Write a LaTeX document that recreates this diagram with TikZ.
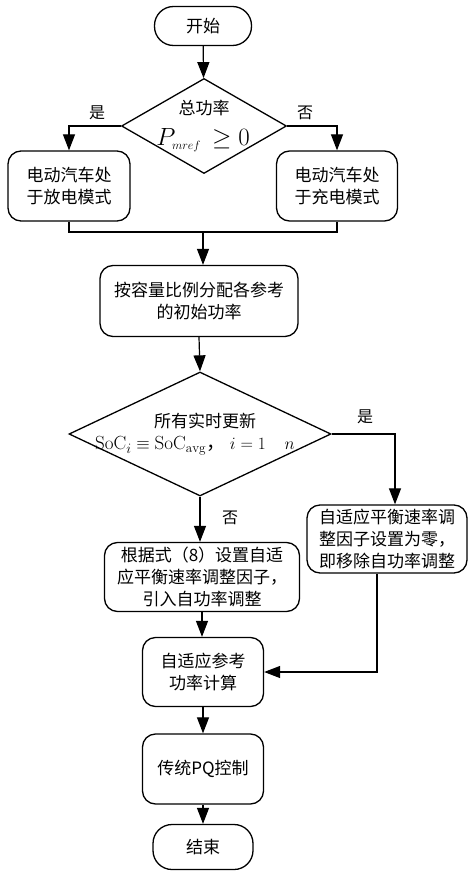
\documentclass[tikz,border=0pt]{standalone}
\usepackage{fontspec}
\newfontfamily\cjk{Noto Sans CJK SC}
\usepackage{tikz}
\usetikzlibrary{shapes.geometric}
\usetikzlibrary{arrows.meta}
\usetikzlibrary{calc}
\usepackage{amsmath}

\begin{document}
\begin{tikzpicture}[x=1pt, y=-1pt,
        box/.style={draw, line width=1.3pt, rounded corners=13pt, align=center, inner sep=0pt,
                    font=\cjk\fontsize{17}{22}\selectfont},
        term/.style={box, rounded corners=19pt},
        decision/.style={draw, diamond, line width=1.3pt, inner sep=0pt},
        flow/.style={line width=1.2pt, -{Triangle[length=16pt,width=12pt]}},
        wire/.style={line width=1.2pt},
        tag/.style={font=\cjk\fontsize{16}{18}\selectfont}]
            \useasboundingbox                                      (0, 0) rectangle (474, 877);
            \node[term,     minimum width= 97pt, minimum height=39pt] (start)  at (203,  26) {开始};
            \node[decision, minimum width=165pt, minimum height=95pt] (power)  at (204, 126) {};
            \node[font=\cjk\fontsize{17}{22}\selectfont]              (powtxt) at (204, 108) {总功率};
            \node[font=\fontsize{25}{28}\selectfont]                  (powcnd) at (203, 140) {$P_{\scriptscriptstyle mref}\,\geq 0$};
            \node[box,      minimum width=122pt, minimum height=70pt] (dischg) at ( 69, 186) {电动汽车处\\于放电模式};
            \node[box,      minimum width=121pt, minimum height=70pt] (charge) at (337, 186) {电动汽车处\\于充电模式};
            \coordinate                                               (merge)  at (203, 232);
            \node[box,      minimum width=198pt, minimum height=71pt] (share)  at (199, 301) {按容量比例分配各参考\\的初始功率};
            \node[decision, minimum width=262pt, minimum height=124pt](soc)    at (200, 434) {};
            \node[font=\cjk\fontsize{17}{22}\selectfont]              (soctxt) at (205, 421) {所有实时更新};
            \node[font=\fontsize{19}{22}\selectfont]                  (soccnd) at (195, 446)
                 {$\mathrm{SoC}_i \equiv \mathrm{SoC}_{\mathrm{avg}}${\cjk ，}$\;i=1\quad n$};
            \node[box,      minimum width=160pt, minimum height=68pt] (zero)   at (387, 539) {自适应平衡速率调\\整因子设置为零，\\即移除自功率调整};
            \node[box,      minimum width=195pt, minimum height=69pt] (factor) at (202, 577) {根据式（8）设置自适\\应平衡速率调整因子，\\引入自功率调整};
            \node[box,      minimum width=121pt, minimum height=69pt] (adapt)  at (203, 672) {自适应参考\\功率计算};
            \node[box,      minimum width=121pt, minimum height=70pt] (pqctl)  at (203, 769) {传统PQ控制};
            \node[term,     minimum width=100pt, minimum height=45pt] (stop)   at (203, 847) {结束};

            \node[tag] (yes1) at ( 97, 113) {是};
            \node[tag] (no1)  at (305, 113) {否};
            \node[tag] (yes2) at (365, 417) {是};
            \node[tag] (no2)  at (230, 518) {否};

            \draw[flow] (start)       -- (power);
            \draw[flow] (power.west)  -| (dischg.north);
            \draw[flow] (power.east)  -| (charge.north);
            \draw[wire] (dischg.south) |- (merge) -| (charge.south);
            \draw[flow] (merge)       -- (merge |- share.north);
            \draw[flow] (share.south) -- (soc.north);
            \draw[flow] (soc.east)    -| ([xshift=8pt]zero.north);
            \draw[flow] (soc.south)   -- (soc.south |- factor.north);
            \draw[flow] (factor.south)-- (factor.south |- adapt.north);
            \draw[flow] ([xshift=-10pt]zero.south) |- (adapt.east);
            \draw[flow] (adapt)       -- (pqctl);
            \draw[flow] (pqctl)       -- (stop);
        \end{tikzpicture}
\end{document}
